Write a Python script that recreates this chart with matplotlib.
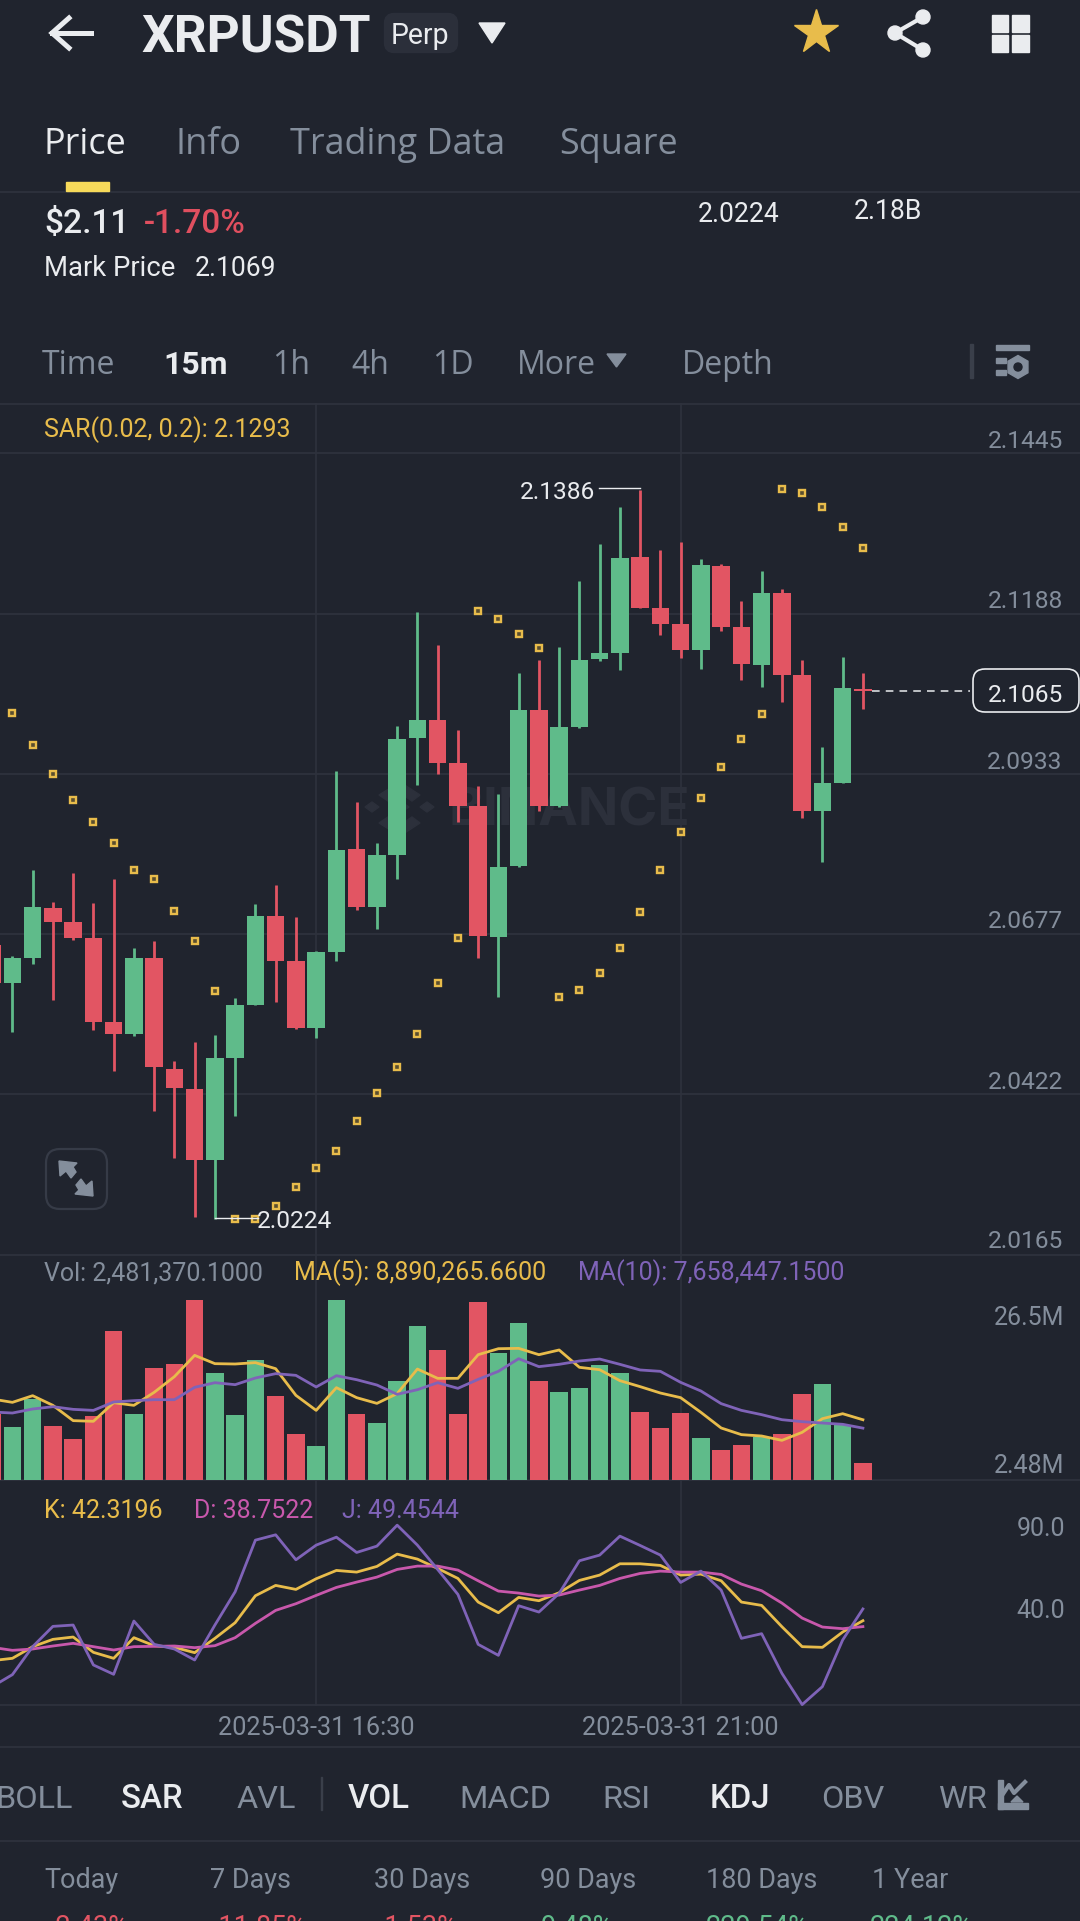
"""XRPUSDT Perp 15m chart screen: candles + SAR, volume + MA, KDJ."""

import numpy as np
import matplotlib
matplotlib.use("Agg")
import matplotlib.pyplot as plt
from matplotlib.patches import FancyBboxPatch, Polygon, Rectangle, Circle, RegularPolygon

plt.rcParams["font.family"] = ["Roboto", "DejaVu Sans"]

# data, first candle sits just off the left edge
opens = [2.0660, 2.0600, 2.0640, 2.0719, 2.0697, 2.0672, 2.0538, 2.0519, 2.0640, 2.0462, 2.0431,
         2.0317, 2.0480, 2.0565, 2.0706, 2.0635, 2.0528, 2.0649, 2.0813, 2.0721, 2.0804, 2.0990,
         2.1019, 2.0950, 2.0881, 2.0673, 2.0786, 2.1034, 2.0881, 2.1008, 2.1116, 2.1125, 2.1278,
         2.1198, 2.1172, 2.1130, 2.1265, 2.1167, 2.1107, 2.1221, 2.1090, 2.0873, 2.0919, 2.1068]
highs = [2.0680, 2.0643, 2.0780, 2.0729, 2.0775, 2.0727, 2.0765, 2.0655, 2.0666, 2.0475, 2.0506,
         2.0517, 2.0576, 2.0725, 2.0756, 2.0705, 2.0650, 2.0937, 2.0888, 2.0823, 2.1009, 2.1191,
         2.1139, 2.1003, 2.0913, 2.0901, 2.1093, 2.1114, 2.1135, 2.1240, 2.1299, 2.1359, 2.1386,
         2.1289, 2.1302, 2.1276, 2.1268, 2.1208, 2.1257, 2.1227, 2.1114, 2.0975, 2.1119, 2.1093]
lows = [2.0590, 2.0522, 2.0630, 2.0572, 2.0668, 2.0525, 2.0459, 2.0515, 2.0395, 2.0321, 2.0227,
        2.0224, 2.0388, 2.0564, 2.0569, 2.0526, 2.0512, 2.0634, 2.0716, 2.0686, 2.0765, 2.0915,
        2.0933, 2.0856, 2.0640, 2.0577, 2.0784, 2.0874, 2.0880, 2.1006, 2.1113, 2.1099, 2.1197,
        2.1155, 2.1117, 2.1100, 2.1161, 2.1082, 2.1072, 2.1047, 2.0862, 2.0792, 2.0919, 2.1036]
closes = [2.0600, 2.0640, 2.0721, 2.0697, 2.0672, 2.0538, 2.0519, 2.0640, 2.0465, 2.0432, 2.0317,
          2.0480, 2.0565, 2.0706, 2.0635, 2.0528, 2.0649, 2.0812, 2.0721, 2.0804, 2.0989, 2.1019,
          2.0951, 2.0881, 2.0675, 2.0785, 2.1034, 2.0881, 2.1007, 2.1114, 2.1125, 2.1277, 2.1198,
          2.1172, 2.1130, 2.1266, 2.1167, 2.1108, 2.1221, 2.1090, 2.0874, 2.0918, 2.1069, 2.1065]

sar = [2.1030, 2.0979, 2.0933, 2.0892, 2.0856, 2.0822, 2.0779, 2.0766, 2.0714, 2.0666, 2.0587,
       2.0224, 2.0224, 2.0244, 2.0275, 2.0304, 2.0331, 2.0379, 2.0424, 2.0465, 2.0519, 2.0600,
       2.0672, 2.1192, 2.1180, 2.1156, 2.1133, 2.0577, 2.0589, 2.0615, 2.0656, 2.0712, 2.0779,
       2.0840, 2.0895, 2.0944, 2.0989, 2.1028, 2.1387, 2.1380, 2.1359, 2.1326, 2.1293]

volume = [9.74, 7.87, 11.94, 7.97, 6.11, 9.49, 21.94, 9.78, 16.55, 17.14, 26.45, 15.72, 9.64, 17.68,
          12.33, 6.84, 5.03, 26.50, 9.78, 8.41, 14.59, 22.63, 19.20, 9.78, 26.16, 18.66, 23.16, 14.59,
          12.92, 13.51, 16.89, 15.81, 10.03, 7.73, 9.93, 6.21, 4.39, 5.13, 6.40, 6.84, 12.73, 14.15,
          8.07, 2.48]
ma5 = [11.94, 11.45, 12.43, 11.01, 8.76, 8.66, 11.40, 11.01, 12.92, 15.23, 18.36, 17.14, 17.09, 17.29,
       16.40, 12.48, 10.27, 13.61, 12.14, 11.30, 12.73, 16.35, 14.98, 14.98, 18.46, 19.34, 19.39, 18.46,
       19.15, 16.60, 16.25, 14.64, 13.76, 12.82, 12.14, 9.98, 7.68, 6.70, 6.50, 5.86, 7.04, 9.05,
       9.78, 8.89]
ma10 = [10.03, 9.88, 10.47, 10.81, 10.42, 10.27, 11.50, 11.70, 11.84, 11.84, 13.66, 14.34, 14.05, 15.03,
        15.67, 15.42, 13.71, 15.37, 14.78, 14.00, 12.63, 13.31, 14.34, 13.51, 14.83, 16.01, 17.87, 16.70,
        17.04, 17.53, 17.82, 17.04, 16.21, 16.01, 14.39, 13.12, 11.26, 10.27, 9.64, 8.90, 8.61, 8.41,
        8.22, 7.66]

k_line = [18.13, 19.54, 26.60, 31.03, 32.44, 23.17, 19.54, 32.04, 27.20, 26.19, 22.97, 31.64, 41.11, 57.44,
          63.69, 61.27, 67.72, 72.76, 71.75, 75.18, 82.64, 79.62, 73.97, 67.92, 53.61, 47.16, 56.43, 54.42,
          59.25, 66.71, 69.94, 76.79, 76.79, 75.79, 69.94, 70.54, 66.51, 53.61, 51.59, 38.69, 26.60, 26.19,
          35.47, 42.32]
d_line = [26.19, 24.38, 25.18, 27.00, 28.61, 26.60, 24.58, 26.60, 26.80, 27.00, 25.99, 27.20, 32.04, 40.71,
          48.57, 52.60, 57.64, 62.48, 65.71, 68.73, 73.37, 75.38, 75.38, 72.96, 66.51, 60.26, 59.05, 57.24,
          57.84, 60.87, 63.69, 67.92, 70.95, 72.36, 71.75, 71.75, 70.34, 64.50, 60.46, 53.00, 43.93, 38.49,
          37.48, 38.75]
j_line = [2.40, 9.66, 26.60, 38.89, 39.70, 15.51, 9.86, 42.12, 28.01, 25.18, 18.53, 39.70, 59.86, 91.11,
          94.33, 79.21, 88.08, 92.92, 83.65, 87.48, 100.18, 88.08, 73.37, 58.25, 28.01, 21.35, 51.39, 47.56,
          58.85, 78.61, 82.04, 93.53, 87.88, 82.04, 65.50, 72.36, 60.87, 31.64, 34.46, 10.47, -8.48, 2.40,
          30.63, 49.45]

price_ticks = [2.1445, 2.1188, 2.0933, 2.0677, 2.0422, 2.0165]
price_label_y = [447.7, 607.6, 768.6, 928, 1089.4, 1248]
time_labels = ["2025-03-31 16:30", "2025-03-31 21:00"]
time_idx = [15, 33]
stats_names = ["Today", "7 Days", "30 Days", "90 Days", "180 Days", "1 Year"]
stats_values = ["-2.43%", "-11.85%", "-1.53%", "9.48%", "229.54%", "224.12%"]

W, H = 1080, 1921
BG = "#20242E"
GRID = "#2E323D"
WHITE = "#EAECEF"
GRAY = "#848E9C"
RED = "#E25563"
GREEN = "#5FBB8A"
YELLOW = "#E8BC4B"
PINK = "#C858AC"
PURPLE = "#7F63B8"
WIDE = ["Open Sans", "DejaVu Sans"]

idx = np.arange(-1, 43)
opens, highs, lows, closes = map(np.array, (opens, highs, lows, closes))
colors = [GREEN if c >= o else RED for o, c in zip(opens, closes)]
XLIM = (-12.4 / 20.25, (W - 12.4) / 20.25)
BAR_W = 0.855


def panel(top, bottom, ylim, z=2):
    ax = fig.add_axes([0, 1 - bottom / H, 1, (bottom - top) / H], zorder=z)
    ax.set_xlim(XLIM)
    ax.set_ylim(ylim)
    ax.axis("off")
    ax.patch.set_alpha(0)
    return ax


def txt(x, y, s, px, color=WHITE, weight="normal", ha="left", **kw):
    if ha == "left":
        x -= 1.5
    ui.text(x, y, s, fontsize=px * 0.72, color=color, weight=weight, ha=ha, va="baseline", **kw)


fig = plt.figure(figsize=(W / 100, H / 100), dpi=100, facecolor=BG)

# back layer: separators, watermark
back = fig.add_axes([0, 0, 1, 1], zorder=0)
back.set_xlim(0, W)
back.set_ylim(H, 0)
back.axis("off")
ui = fig.add_axes([0, 0, 1, 1], zorder=5)
ui.set_xlim(0, W)
ui.set_ylim(H, 0)
ui.axis("off")
ui.patch.set_alpha(0)

for y in [191.7, 404.3, 1255, 1480.2, 1704.6, 1747, 1841]:
    back.plot([0, W], [y, y], color=GRID, lw=1.3)
for i in time_idx:
    px = 12.4 + 20.25 * i
    back.plot([px, px], [404.3, 1704.6], color=GRID, lw=1.2)

mark = "#2C303B"
back.text(449, 825.5, "BINANCE", fontsize=53 * 0.72, color=mark, weight="bold", va="baseline",
          family=["Inter", "DejaVu Sans"])
for pts in ([(379, 795), (400, 782), (420, 795), (412, 801), (400, 793), (388, 801)],
            [(379, 823), (400, 836), (420, 823), (412, 817), (400, 825), (388, 817)],
            [(365, 807), (372, 802), (379, 807), (372, 812)],
            [(420, 807), (427, 802), (434, 807), (427, 812)],
            [(391, 807), (400, 801), (409, 807), (400, 813)]):
    back.add_patch(Polygon(pts, color=mark))

# price panel
ax_p = panel(404.3, 1255, (2.0166, 2.1522))
for t in price_ticks[:-1]:
    ax_p.axhline(t, color=GRID, lw=1.3, zorder=0)
ax_p.vlines(idx, lows, highs, colors=colors, lw=2.0, zorder=2)
ax_p.bar(idx, np.abs(closes - opens), bottom=np.minimum(opens, closes), width=BAR_W, color=colors, zorder=3)
ax_p.plot(np.arange(43), sar, ls="none", marker="s", ms=4.3, mew=1.7, mec=YELLOW, mfc="#5A4E2E", zorder=4)
ax_p.plot([42.45, 47.3], [closes[-1], closes[-1]], color=WHITE, lw=1.1, ls=(0, (5, 4)), zorder=4)

# volume panel
ax_v = panel(1255, 1480.2, (0, 33.12))
ax_v.bar(idx, volume, width=BAR_W, color=colors)
ax_v.plot(idx, ma5, color=YELLOW, lw=2.0)
ax_v.plot(idx, ma10, color=PURPLE, lw=2.0)

# kdj panel
ax_k = panel(1480.2, 1704.6, (-8.48, 127.4))
ax_k.plot(idx, k_line, color=YELLOW, lw=2.0, clip_on=False)
ax_k.plot(idx, d_line, color=PINK, lw=2.0, clip_on=False)
ax_k.plot(idx, j_line, color=PURPLE, lw=2.0, clip_on=False)

# header
ui.plot([52, 91], [33, 33], color=WHITE, lw=3.6)
ui.plot([69, 52, 69], [18, 33, 48], color=WHITE, lw=3.6, solid_joinstyle="miter")
txt(143, 52.7, "XRPUSDT", 51.5, weight="bold")
ui.add_patch(FancyBboxPatch((388, 17), 66, 32, boxstyle="round,pad=0,rounding_size=6", fc="#2B2F3A", ec="#2B2F3A", lw=6))
txt(392, 44, "Perp", 28.5)
ui.add_patch(Polygon([(479, 23), (505, 23), (492, 43)], color=WHITE))
ui.plot([815.5], [32], marker="*", ms=33, color=YELLOW, mec=YELLOW)
for a, b in [((923, 17), (895, 33)), ((895, 33), (923, 50))]:
    ui.plot([a[0], b[0]], [a[1], b[1]], color=WHITE, lw=3)
for c in [(923, 17), (895, 33), (923, 50)]:
    ui.add_patch(Circle(c, 7, color=WHITE))
for x0, y0, w, h in [(992, 15, 16, 17), (1012, 15, 17, 17), (992, 35, 16, 17), (1012, 35, 17, 17)]:
    ui.add_patch(Rectangle((x0, y0), w, h, color=WHITE))

# tabs
txt(44.8, 154, "Price", 36, weight="medium", family=WIDE)
for x, s in [(177, "Info"), (292, "Trading Data"), (561, "Square")]:
    txt(x, 154, s, 36, GRAY, weight="medium", family=WIDE)
ui.add_patch(Rectangle((66, 182), 43, 9, color="#F7DA5A"))

# ticker
txt(46, 233, "$2.11", 33.5, weight="medium")
txt(145, 233, "-1.70%", 33.5, "#E04F5F", weight="medium")
txt(46, 276, "Mark Price", 27.5)
txt(196, 276, "2.1069", 26.5)
txt(699, 222, "2.0224", 26.5)
txt(855, 219, "2.18B", 26.5)

# timeframes
for x, s in [(43, "Time"), (274, "1h"), (353, "4h"), (434, "1D"), (518, "More"), (683, "Depth")]:
    txt(x, 374, s, 32, GRAY, family=WIDE)
txt(165, 374, "15m", 32, weight="bold")
ui.add_patch(Polygon([(607, 354), (626, 354), (616.5, 367)], color=GRAY))
ui.add_patch(Rectangle((970, 344), 3, 34, color="#3A3F4A"))
ui.add_patch(Rectangle((996, 345), 33, 5, color=GRAY))
ui.add_patch(Rectangle((996, 358), 10, 5, color=GRAY))
ui.add_patch(Rectangle((996, 370), 10, 5, color=GRAY))
ui.add_patch(RegularPolygon((1018, 367), 6, radius=11.5, color=GRAY))
ui.add_patch(Circle((1018, 367), 4, color=BG))

# chart texts
txt(45.8, 437, "SAR(0.02, 0.2): 2.1293", 25, YELLOW)
for t, y in zip(price_ticks, price_label_y):
    txt(1062.7, y, f"{t:.4f}", 24.5, GRAY, ha="right")
ui.add_patch(FancyBboxPatch((973, 669), 106, 43, boxstyle="round,pad=0,rounding_size=12", fc=BG, ec=WHITE, lw=1.2))
txt(1063, 702, "2.1065", 24.5, ha="right")

# high / low tags
txt(521.7, 499, "2.1386", 24.5)
ui.plot([598.5, 640], [488.3, 488.3], color=WHITE, lw=1)
ui.plot([214.9, 258], [1218.4, 1218.4], color=WHITE, lw=1)
txt(258, 1227.6, "2.0224", 24.5)

# expand button
ui.add_patch(FancyBboxPatch((46, 1149), 61, 60, boxstyle="round,pad=0,rounding_size=14", fc="none", ec="#363B47", lw=1.6))
ui.add_patch(Polygon([(59, 1161), (77, 1163), (73, 1167), (76, 1172), (71, 1178), (66, 1171), (60, 1176)], color=GRAY))
ui.add_patch(Polygon([(93, 1196), (75, 1194), (79, 1190), (76, 1185), (81, 1179), (86, 1186), (92, 1181)], color=GRAY))

# volume and kdj labels
txt(45.8, 1280, "Vol: 2,481,370.1000", 25, GRAY)
txt(296, 1280, "MA(5): 8,890,265.6600", 25, YELLOW)
txt(580, 1280, "MA(10): 7,658,447.1500", 25, PURPLE)
txt(1064, 1325, "26.5M", 25, GRAY, ha="right")
txt(1064, 1473, "2.48M", 25, GRAY, ha="right")
txt(46, 1518, "K: 42.3196", 25, YELLOW)
txt(195, 1518, "D: 38.7522", 25, PINK)
txt(343, 1518, "J: 49.4544", 25, PURPLE)
txt(1065, 1535.7, "90.0", 25, GRAY, ha="right")
txt(1065, 1617.7, "40.0", 25, GRAY, ha="right")
for i, s in zip(time_idx, time_labels):
    txt(12.4 + 20.25 * i, 1735, s, 25.2, GRAY, ha="center")

# indicator tabs
for x, s in [(-3, "BOLL"), (237.6, "AVL"), (461, "MACD"), (604, "RSI"), (823, "OBV"), (940, "WR")]:
    txt(x, 1808, s, 32.5, GRAY)
for x, s in [(122.6, "SAR"), (349, "VOL"), (711, "KDJ")]:
    txt(x, 1808, s, 33, weight="medium")
ui.add_patch(Rectangle((320.5, 1777), 1.2, 33, color="#3A3F4A"))
for k, a in enumerate([0.25, 0.45, 0.65, 0.85]):
    ui.add_patch(Rectangle((960 + 6 * k, 1775), 6, 40, color=BG, alpha=a, lw=0))
ui.add_patch(Rectangle((984, 1775), 15, 40, color=BG, lw=0))
ui.add_patch(Rectangle((998, 1780), 5, 29, color=GRAY))
ui.add_patch(Rectangle((998, 1803), 30, 6, color=GRAY))
ui.plot([1003, 1009, 1014, 1025], [1794, 1785, 1793, 1782], color=GRAY, lw=3)
ui.add_patch(Polygon([(1017, 1796), (1011, 1802), (1023, 1802)], color=GRAY))

# period stats, the second row is cut by the screen edge
stats_x = [46, 212, 376, 541, 707, 873]
values_x = [50, 213, 379, 542, 707, 871]
for x, s in zip(stats_x, stats_names):
    txt(x, 1888, s, 27, GRAY)
for x, s in zip(values_x, stats_values):
    txt(x, 1935, s, 27, RED if s.startswith("-") else GREEN)

fig.savefig("out.png", dpi=100, facecolor=BG)
